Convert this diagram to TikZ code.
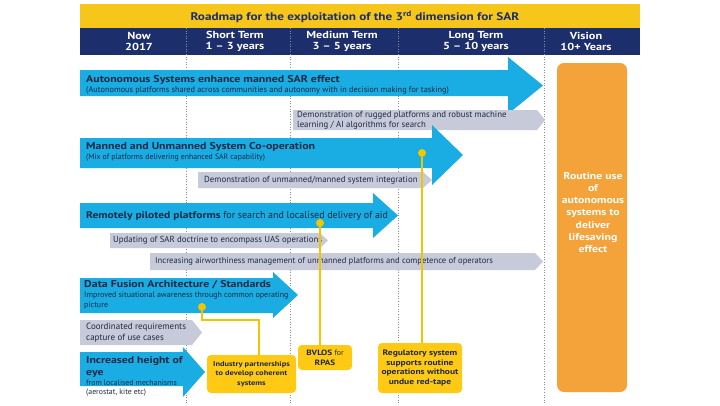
\documentclass[tikz,border=0pt]{standalone}
\usepackage{fontspec}
\setmainfont{PT Sans}[BoldFeatures={FakeStretch=1.2}]
\definecolor{navy}{HTML}{1C2E6B}
\definecolor{hdryellow}{HTML}{F6C61A}
\definecolor{arrblue}{HTML}{19ADE3}
\definecolor{arrgrey}{HTML}{C7CAD8}
\definecolor{boxorange}{HTML}{F4A23A}
\definecolor{boxyellow}{HTML}{FFC914}
\definecolor{linkyellow}{HTML}{F5C400}
\definecolor{txtdark}{HTML}{1E2A44}
\definecolor{colline}{HTML}{8A8E99}
\tikzset{
  bluearrow/.style={fill=arrblue},
  greyarrow/.style={fill=arrgrey},
  bigtxt/.style={anchor=west,inner sep=0pt,text=txtdark,font=\bfseries\fontsize{9.9}{11}\selectfont},
  smalltxt/.style={anchor=west,inner sep=0pt,text=txtdark,font=\fontsize{7.8}{9}\selectfont},
  greytxt/.style={anchor=west,inner sep=0pt,text=txtdark,font=\fontsize{8.8}{10.2}\selectfont,align=left},
  colhead/.style={text=white,font=\bfseries\fontsize{10.2}{11.5}\selectfont,align=center,inner sep=0pt},
  colsep/.style={colline,line width=0.5pt,dash pattern=on 1pt off 1.6pt},
  ybox/.style={fill=boxyellow,rounded corners=4pt,text=txtdark,align=center,inner sep=1pt,font=\bfseries\fontsize{7}{9.5}\selectfont},
  link/.style={draw=linkyellow,line width=1.1pt},
  ydot/.style={circle,fill=linkyellow,minimum size=8pt,inner sep=0pt},
}
\begin{document}
\begin{tikzpicture}[x=1pt,y=-1pt]
\useasboundingbox (0,0) rectangle (720,405);
\fill[white] (0,0) rectangle (720,405);
% header
\fill[hdryellow] (80,4) rectangle (640,28);
\fill[navy] (80,28) rectangle (640,55);
\node[text=navy,font=\bfseries\fontsize{11}{12}\selectfont,inner sep=0pt] (title) at (355,16.5) {Roadmap for the exploitation of the 3\textsuperscript{rd} dimension for SAR};
% column separators
\foreach \cx in {186,290,398,544} { \draw[colsep] (\cx,28) -- (\cx,405); }
\node[colhead] (h1) at (139,41.5) {Now\\2017};
\node[colhead] (h2) at (235,41.5) {Short Term\\1 -- 3 years};
\node[colhead] (h3) at (342,41.5) {Medium Term\\3 -- 5 years};
\node[colhead] (h4) at (476,41.5) {Long Term\\5 -- 10 years};
\node[colhead] (h5) at (586,41.5) {Vision\\10+ Years};
% orange vision box
\node[fill=boxorange,rounded corners=7pt,minimum width=70pt,minimum height=329pt,inner sep=0pt] (vision) at (592,227.5) {};
\node[text=white,font=\bfseries\fontsize{9.8}{12.2}\selectfont,align=center,inner sep=0pt] (visiontxt) at (593,212.5) {Routine use\\of\\autonomous\\systems to\\deliver\\lifesaving\\effect};
% arrow 1
\fill[bluearrow] (80,70) -- (508,70) -- (508,57) -- (543,85.5) -- (508,114) -- (508,96) -- (80,96) -- cycle;
\node[bigtxt] (a1t) at (86,79.5) {Autonomous Systems enhance manned SAR effect};
\node[smalltxt,font=\fontsize{8.3}{9}\selectfont] (a1s) at (86,90) {(Autonomous platforms shared across communities and autonomy with in decision making for tasking)};
% grey 1
\fill[greyarrow] (293,110) -- (537,110) -- (545,120) -- (537,130) -- (293,130) -- cycle;
\node[greytxt] (g1t) at (297,120) {Demonstration of rugged platforms and robust machine\\learning / AI algorithms for search};
% arrow 2
\fill[bluearrow] (80,138) -- (432,138) -- (432,125) -- (463,155) -- (432,185) -- (432,168) -- (80,168) -- cycle;
\node[bigtxt] (a2t) at (86,147) {Manned and Unmanned System Co-operation};
\node[smalltxt] (a2s) at (86,157.5) {(Mix of platforms delivering enhanced SAR capability)};
% grey 2
\fill[greyarrow] (198,172) -- (423,172) -- (432,180) -- (423,188) -- (198,188) -- cycle;
\node[greytxt] (g2t) at (204,180) {Demonstration of unmanned/manned system integration};
% arrow 3
\fill[bluearrow] (80,203) -- (373,203) -- (373,193) -- (398,215.5) -- (373,238) -- (373,228) -- (80,228) -- cycle;
\node[bigtxt,font=\fontsize{10}{11}\selectfont] (a3t) at (86,215.5) {{\bfseries\fontsize{9.6}{10}\selectfont Remotely piloted platforms} for search and localised delivery of aid};
% grey 3
\fill[greyarrow] (110,233) -- (320,233) -- (328,240.5) -- (320,248) -- (110,248) -- cycle;
\node[greytxt] (g3t) at (113,240.5) {Updating of SAR doctrine to encompass UAS operations};
% grey 4
\fill[greyarrow] (150,253) -- (535,253) -- (543,261.5) -- (535,270) -- (150,270) -- cycle;
\node[greytxt,font=\fontsize{8.6}{10}\selectfont] (g4t) at (155,261.5) {Increasing airworthiness management of unmanned platforms and competence of operators};
% arrow 4
\fill[bluearrow] (80,278) -- (273,278) -- (273,272) -- (298,295) -- (273,318) -- (273,313) -- (80,313) -- cycle;
\node[bigtxt] (a4t) at (84,285) {Data Fusion Architecture / Standards};
\node[smalltxt,font=\fontsize{8}{9.5}\selectfont,align=left] (a4s) at (84,300.5) {Improved situational awareness through common operating\\picture};
% grey 5
\fill[greyarrow] (80,320) -- (192,320) -- (202,332.5) -- (192,345) -- (80,345) -- cycle;
\node[greytxt,font=\fontsize{9}{11}\selectfont] (g5t) at (86,333) {Coordinated requirements\\capture of use cases};
% arrow 5
\fill[bluearrow] (80,352) -- (183,352) -- (183,347) -- (205,372) -- (183,397) -- (183,386) -- (80,386) -- cycle;
\node[bigtxt,font=\bfseries\fontsize{9.8}{12}\selectfont,align=left] (a5t) at (86,367) {Increased height of\\eye};
\node[smalltxt] (a5s) at (86,383) {from localised mechanisms};
\node[smalltxt] (a5n) at (86,393) {(aerostat, kite etc)};
% yellow boxes
\node[ybox,minimum width=89pt,minimum height=38pt] (ind) at (251.5,374) {Industry partnerships\\to develop coherent\\systems};
\node[ybox,minimum width=54pt,minimum height=25pt,font=\bfseries\fontsize{7.7}{9.8}\selectfont] (bvlos) at (325,357.5) {BVLOS {\mdseries for}\\RPAS};
\node[ybox,minimum width=84pt,minimum height=50pt,font=\bfseries\fontsize{7.9}{9.6}\selectfont] (reg) at (420,368) {Regulatory system\\supports routine\\operations without\\undue red-tape};
% dots and links
\node[ydot] (d1) at (422,153) {};
\node[ydot] (d2) at (320,223) {};
\node[ydot] (d3) at (202,307) {};
\coordinate (c3) at (259,320);
\draw[link] (d1.south) -- (d1 |- reg.north);
\draw[link] (d2.south) -- (d2 |- bvlos.north);
\draw[link] (d3.south) |- (c3) -- (c3 |- ind.north);
\end{tikzpicture}
\end{document}
